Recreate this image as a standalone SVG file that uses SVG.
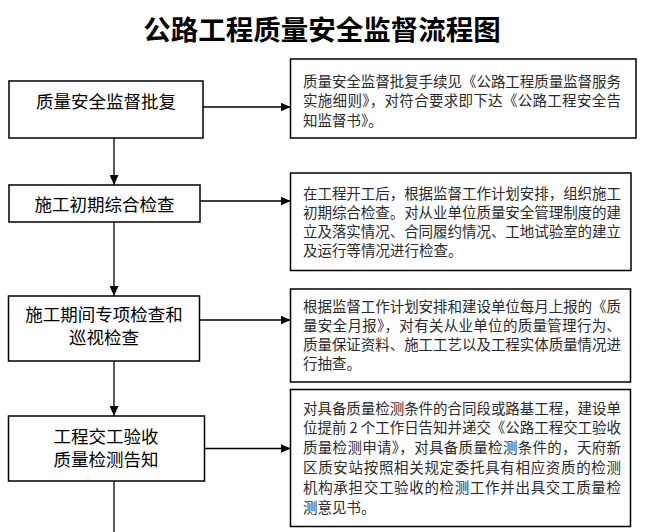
<svg xmlns="http://www.w3.org/2000/svg" width="651" height="532" viewBox="0 0 651 532">
<style>
.box{fill:#fff;stroke:#000;stroke-width:1.5}
.lbl{font-family:"Noto Sans CJK SC","Liberation Sans",sans-serif;font-size:17.5px;fill:#000;text-anchor:middle}
.desc{font-family:"Noto Sans CJK SC","Liberation Serif",sans-serif;font-size:14.5px;fill:#2a2a2a}
.title{font-family:"Noto Sans CJK SC","Liberation Sans",sans-serif;font-size:27.5px;font-weight:700;fill:#000;text-anchor:middle}
.con{fill:none;stroke:#000;stroke-width:1.3}
</style>
<defs>
<marker id="ah" markerUnits="userSpaceOnUse" markerWidth="10" markerHeight="9" refX="10" refY="4.5" orient="auto">
<path d="M0,0 L10,4.5 L0,9 z" fill="#000"/>
</marker>
</defs>
<rect width="651" height="532" fill="#fff"/>
<text class="title" x="322" y="40">公路工程质量安全监督流程图</text>

<g id="connectors">
<line class="con" x1="114" y1="138" x2="114" y2="185" marker-end="url(#ah)"/>
<line class="con" x1="114" y1="222" x2="114" y2="296" marker-end="url(#ah)"/>
<line class="con" x1="114" y1="361" x2="114" y2="416" marker-end="url(#ah)"/>
<line class="con" x1="114" y1="481" x2="114" y2="532"/>
<line class="con" x1="203" y1="107" x2="290.5" y2="107" marker-end="url(#ah)"/>
<line class="con" x1="200" y1="201" x2="290.5" y2="201" marker-end="url(#ah)"/>
<line class="con" x1="199.5" y1="320" x2="290.5" y2="320" marker-end="url(#ah)"/>
<line class="con" x1="204.5" y1="448.5" x2="290.5" y2="448.5" marker-end="url(#ah)"/>
</g>

<g id="n1">
<rect class="box" x="9" y="81" width="194" height="57"/>
<text class="lbl" x="106" y="108">质量安全监督批复</text>
</g>
<g id="n2">
<rect class="box" x="9" y="185" width="191" height="37"/>
<text class="lbl" x="104.5" y="210.5">施工初期综合检查</text>
</g>
<g id="n3">
<rect class="box" x="8.5" y="296" width="191" height="65"/>
<text class="lbl" x="104" y="320.5">施工期间专项检查和</text>
<text class="lbl" x="104" y="343.5">巡视检查</text>
</g>
<g id="n4">
<rect class="box" x="8.5" y="416" width="196" height="65"/>
<text class="lbl" x="106" y="443">工程交工验收</text>
<text class="lbl" x="106" y="466">质量检测告知</text>
</g>

<g id="d1">
<rect class="box" x="290.5" y="59" width="345.5" height="79"/>
<text class="desc" x="303" y="86.8" textLength="318" lengthAdjust="spacing">质量安全监督批复手续见《公路工程质量监督服务</text>
<text class="desc" x="303" y="106.3" textLength="318" lengthAdjust="spacing">实施细则》，对符合要求即下达《公路工程安全告</text>
<text class="desc" x="303" y="125.8">知监督书》。</text>
</g>
<g id="d2">
<rect class="box" x="290.5" y="173" width="340.5" height="97.5"/>
<text class="desc" x="303" y="198.5" textLength="318" lengthAdjust="spacing">在工程开工后，根据监督工作计划安排，组织施工</text>
<text class="desc" x="303" y="217.5" textLength="318" lengthAdjust="spacing">初期综合检查。对从业单位质量安全管理制度的建</text>
<text class="desc" x="303" y="236.5" textLength="318" lengthAdjust="spacing">立及落实情况、合同履约情况、工地试验室的建立</text>
<text class="desc" x="303" y="255.5">及运行等情况进行检查。</text>
</g>
<g id="d3">
<rect class="box" x="290.5" y="289" width="340" height="93"/>
<text class="desc" x="303" y="311.5" textLength="318" lengthAdjust="spacing">根据监督工作计划安排和建设单位每月上报的《质</text>
<text class="desc" x="303" y="330.5" textLength="318" lengthAdjust="spacing">量安全月报》，对有关从业单位的质量管理行为、</text>
<text class="desc" x="303" y="349.5" textLength="318" lengthAdjust="spacing">质量保证资料、施工工艺以及工程实体质量情况进</text>
<text class="desc" x="303" y="368.5">行抽查。</text>
</g>
<g id="d4">
<rect class="box" x="290.5" y="389.5" width="340" height="137"/>
<text class="desc" x="303" y="413.6" textLength="318" lengthAdjust="spacing">对具备质量检测条件的合同段或路基工程，建设单</text>
<text class="desc" x="303" y="433.4" textLength="318" lengthAdjust="spacing">位提前 2 个工作日告知并递交《公路工程交工验收</text>
<text class="desc" x="303" y="453.2" textLength="318" lengthAdjust="spacing">质量检测申请》，对具备质量检测条件的，天府新</text>
<text class="desc" x="303" y="473" textLength="318" lengthAdjust="spacing">区质安站按照相关规定委托具有相应资质的检测</text>
<text class="desc" x="303" y="492.8" textLength="318" lengthAdjust="spacing">机构承担交工验收的检测工作并出具交工质量检</text>
<text class="desc" x="303" y="512.6">测意见书。</text>
</g>
</svg>
